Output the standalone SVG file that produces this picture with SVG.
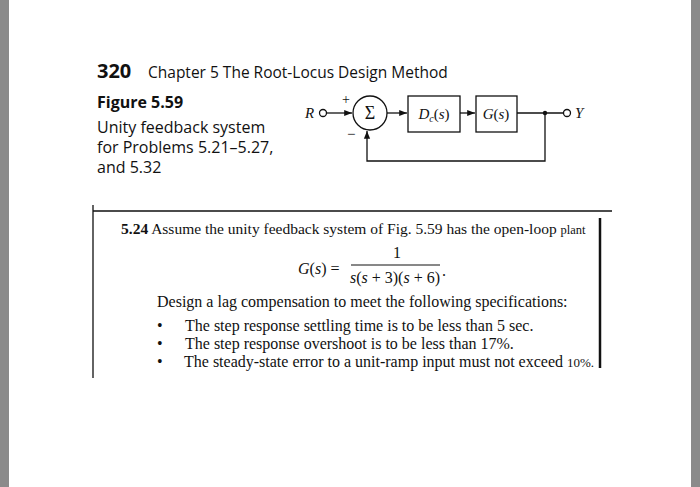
<svg xmlns="http://www.w3.org/2000/svg" width="700" height="487" viewBox="0 0 700 487">
<style>
.h{font-family:"Open Sans","DejaVu Sans",sans-serif;fill:#111}
.t{font-family:"Liberation Serif",serif;fill:#111}
.ln{stroke:#111;stroke-width:1.3;fill:none}
</style>
<defs><marker id="a" viewBox="0 0 10 10" refX="10" refY="5" markerWidth="6" markerHeight="6" orient="auto"><path d="M0,1L10,5L0,9z" fill="#111"/></marker></defs>
<rect width="700" height="487" fill="#fff"/>
<rect x="0" y="0" width="9" height="487" fill="#8a8a8a"/>
<rect x="691" y="0" width="9" height="487" fill="#8a8a8a"/>
<text class="h" x="97" y="78" font-size="20" font-weight="bold">320</text>
<text class="h" x="148" y="78" font-size="15.5">Chapter 5  The Root-Locus Design Method</text>
<text class="h" x="97" y="108" font-size="16" font-weight="bold">Figure 5.59</text>
<text class="h" x="97" y="133" font-size="16">Unity feedback system</text>
<text class="h" x="97" y="153" font-size="16">for Problems 5.21–5.27,</text>
<text class="h" x="97" y="173" font-size="16">and 5.32</text>
<g id="connectors">
<path class="ln" d="M327,113H352" marker-end="url(#a)"/>
<path class="ln" d="M387,113H407" marker-end="url(#a)"/>
<path class="ln" d="M460,113H475" marker-end="url(#a)"/>
<path class="ln" d="M517,113H563"/>
<path class="ln" d="M545,113V161H367V131" marker-end="url(#a)"/>
<circle cx="545" cy="113" r="2.2" fill="#111"/>
</g>
<g id="R"><circle class="ln" cx="323" cy="113" r="3.5"/><text class="t" x="305" y="118" font-size="15" font-style="italic">R</text></g>
<g id="sum"><circle class="ln" cx="370" cy="113" r="17"/><text class="t" x="370" y="119" font-size="18" text-anchor="middle">Σ</text>
<text class="t" x="342" y="104" font-size="14">+</text><text class="t" x="347" y="139" font-size="15">−</text></g>
<g id="Dc"><rect class="ln" x="408" y="96" width="52" height="36"/><text class="t" x="434" y="119" font-size="15" text-anchor="middle"><tspan font-style="italic">D</tspan><tspan font-style="italic" font-size="10" dy="3">c</tspan><tspan dy="-3">(</tspan><tspan font-style="italic">s</tspan>)</text></g>
<g id="G"><rect class="ln" x="476" y="96" width="41" height="36"/><text class="t" x="496" y="119" font-size="15" text-anchor="middle"><tspan font-style="italic">G</tspan>(<tspan font-style="italic">s</tspan>)</text></g>
<g id="Y"><circle class="ln" cx="567" cy="113" r="3.5"/><text class="t" x="575" y="118" font-size="15" font-style="italic">Y</text></g>
<path class="ln" d="M93,205V378M93,211H612"/>
<path d="M600,218V368" stroke="#111" stroke-width="2.5"/>
<g class="t" font-size="16">
<text x="121" y="234" font-size="15.5"><tspan font-weight="bold">5.24</tspan>  Assume the unity feedback system of Fig. 5.59 has the open-loop <tspan font-size="12.5">plant</tspan></text>
<text x="298" y="274"><tspan font-style="italic">G</tspan>(<tspan font-style="italic">s</tspan>) =</text>
<text x="397" y="258" text-anchor="middle">1</text>
<path d="M351,265H440" stroke="#111" stroke-width="1"/>
<text x="395" y="283" text-anchor="middle"><tspan font-style="italic">s</tspan>(<tspan font-style="italic">s</tspan> + 3)(<tspan font-style="italic">s</tspan> + 6)</text>
<text x="442" y="276">.</text>
<text x="157" y="307">Design a lag compensation to meet the following specifications:</text>
<text x="157" y="331">•</text><text x="185" y="331">The step response settling time is to be less than 5 sec.</text>
<text x="157" y="349">•</text><text x="185" y="349">The step response overshoot is to be less than 17%.</text>
<text x="157" y="367">•</text><text x="184" y="367">The steady-state error to a unit-ramp input must not exceed <tspan font-size="13">10%.</tspan></text>
</g>
</svg>
